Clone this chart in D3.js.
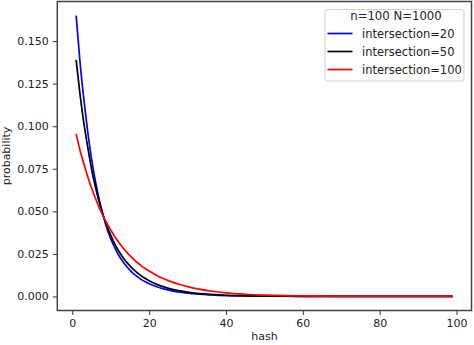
<!DOCTYPE html>
<html>
<head>
<meta charset="utf-8">
<script src="https://cdn.jsdelivr.net/npm/d3@7"></script>
<style>
  html, body { margin: 0; padding: 0; background: #fff; }
  svg { display: block; }
  text { font-family: "DejaVu Sans", sans-serif; }
</style>
</head>
<body>
<svg id="chart" width="474" height="345"></svg>
<script>
// ---- data ----
const xs = [1,2,3,4,5,6,7,8,9,10,11,12,13,14,15,16,17,18,19,20,22,24,26,28,30,33,36,40,45,50,55,60,70,80,90,99];
const blue20 = [0.165,0.138,0.116,0.097,0.081,0.068,0.057,0.048,0.040,0.034,0.029,0.0245,0.021,0.018,0.0155,0.0133,0.0115,0.0099,0.0086,0.0075,0.0057,0.0043,0.0033,0.0025,0.0019,0.0013,0.0009,0.0005,0.0003,0.0002,0.00015,0.0001,0.00005,0.00002,0.00001,0.0];
const black50 = [0.139,0.119,0.102,0.088,0.075,0.0645,0.0555,0.048,0.0415,0.036,0.031,0.027,0.0235,0.0205,0.018,0.0157,0.0137,0.012,0.0105,0.0092,0.0071,0.0055,0.0042,0.0033,0.0025,0.0017,0.0012,0.0007,0.0004,0.0002,0.00015,0.0001,0.00005,0.00002,0.00001,0.0];
const red100 = [0.0955,0.086,0.078,0.0705,0.0638,0.0578,0.0523,0.0474,0.043,0.039,0.0354,0.0321,0.0291,0.0264,0.024,0.0218,0.0198,0.018,0.0164,0.0149,0.0123,0.0102,0.0084,0.007,0.0058,0.0043,0.0032,0.0021,0.0013,0.0008,0.0005,0.0003,0.0001,0.00005,0.00002,0.00001];
const seriesNames = ["intersection=20","intersection=50","intersection=100"];
const seriesColors = ["#0000ff","#000000","#ff0000"];
const legendTitle = "n=100 N=1000";
const xTicks = [0,20,40,60,80,100];
const yTicks = [0.000,0.025,0.050,0.075,0.100,0.125,0.150];
const xLabel = "hash";
const yLabel = "probability";

// ---- layout ----
const svg = d3.select("#chart");
const L = 57.3, R = 471.5, T = 1.5, B = 310.5;

const x = d3.scaleLinear().domain([-3.9, 103.9]).range([L, R]);
const y = d3.scaleLinear().domain([-0.00825, 0.17325]).range([B, T]);

const allSeries = [blue20, black50, red100];

const g = svg.append("g");

// lines
const line = d3.line().x(d => x(d[0])).y(d => y(d[1])).curve(d3.curveMonotoneX);
allSeries.forEach((vals, i) => {
  g.append("path")
    .datum(xs.map((xv, j) => [xv, vals[j]]))
    .attr("fill", "none")
    .attr("stroke", seriesColors[i])
    .attr("stroke-width", 1.7)
    .attr("stroke-linejoin", "round")
    .attr("d", line);
});

// axes
const xAxis = d3.axisBottom(x).tickValues(xTicks).tickSize(4.5).tickPadding(4).tickFormat(d3.format("d"));
const yAxis = d3.axisLeft(y).tickValues(yTicks).tickSize(4.5).tickPadding(4).tickFormat(d3.format(".3f"));

const gx = svg.append("g").attr("transform", `translate(0,${B})`).call(xAxis);
const gy = svg.append("g").attr("transform", `translate(${L},0)`).call(yAxis);
[gx, gy].forEach(a => {
  a.select(".domain").remove();
  a.selectAll(".tick line").attr("stroke", "#333").attr("stroke-width", 1);
  a.selectAll(".tick text").attr("fill", "#222").style("font-size", "11px").style("font-family", "DejaVu Sans, sans-serif");
});

// frame
svg.append("rect")
  .attr("x", L).attr("y", T).attr("width", R - L).attr("height", B - T)
  .attr("fill", "none").attr("stroke", "#444").attr("stroke-width", 1.5);

// axis labels
svg.append("text").attr("x", (L + R) / 2).attr("y", 340).attr("text-anchor", "middle")
  .attr("fill", "#222").style("font-size", "11px").text(xLabel);
svg.append("text").attr("transform", `translate(10,${(T + B) / 2}) rotate(-90)`).attr("text-anchor", "middle")
  .attr("fill", "#222").style("font-size", "11px").text(yLabel);

// legend
const lg = svg.append("g");
lg.append("rect").attr("x", 325).attr("y", 9.5).attr("width", 139).attr("height", 71.5)
  .attr("rx", 2.5).attr("fill", "#fff").attr("fill-opacity", 0.85).attr("stroke", "#d0d0d0").attr("stroke-width", 1);
lg.append("text").attr("x", 396).attr("y", 20).attr("text-anchor", "middle")
  .attr("fill", "#222").style("font-size", "11.7px").text(legendTitle);
seriesNames.forEach((name, i) => {
  const yy = 33.5 + i * 18;
  lg.append("line").attr("x1", 327.5).attr("x2", 352.5).attr("y1", yy).attr("y2", yy)
    .attr("stroke", seriesColors[i]).attr("stroke-width", 1.7);
  lg.append("text").attr("x", 362).attr("y", yy + 4).attr("fill", "#222")
    .style("font-size", "11.5px").text(name);
});
</script>
</body>
</html>
